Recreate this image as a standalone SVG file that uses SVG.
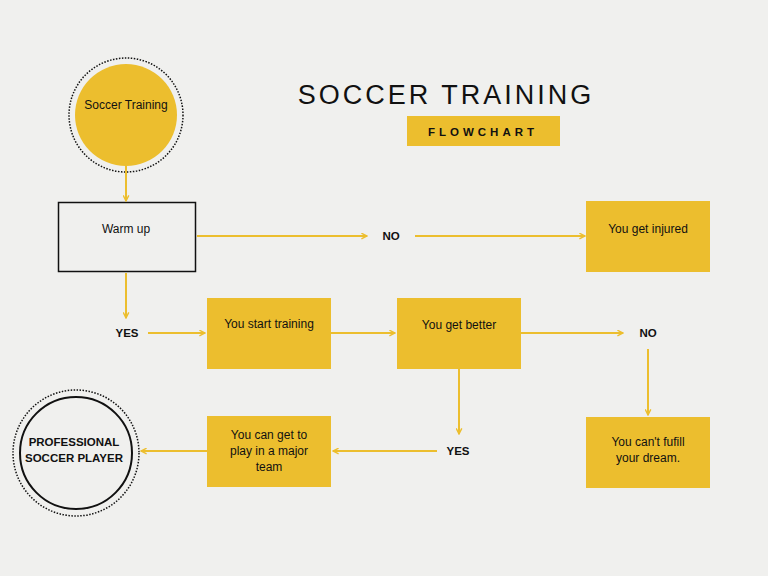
<svg xmlns="http://www.w3.org/2000/svg" width="768" height="576" viewBox="0 0 768 576">
<style>
.t{font-family:"Liberation Sans",Arial,sans-serif;font-size:12px;fill:#111;text-anchor:middle}
.b{font-family:"Liberation Sans",Arial,sans-serif;font-size:11.5px;font-weight:bold;fill:#111;text-anchor:middle}
.box{fill:#ecbe2e}
.c line,.c path{stroke:#ecbe2e;stroke-width:2;fill:none}
</style>
<defs><marker id="a" viewBox="0 0 10 10" refX="9" refY="5" markerWidth="7" markerHeight="7" orient="auto" markerUnits="userSpaceOnUse"><path d="M1,1 L9,5 L1,9" fill="none" stroke="#ecbe2e" stroke-width="2"/></marker></defs>
<rect width="768" height="576" fill="#f0f0ee"/>
<text x="446" y="104" font-family="Liberation Sans,Arial,sans-serif" font-size="27" letter-spacing="3" text-anchor="middle" fill="#111">SOCCER TRAINING</text>
<rect x="407" y="116" width="153" height="30" class="box"/>
<text x="483" y="136" class="b" font-size="13" letter-spacing="4">FLOWCHART</text>
<g id="start"><circle cx="126" cy="115" r="57" fill="none" stroke="#111" stroke-width="1.5" stroke-dasharray="1.5 1.5"/><circle cx="126" cy="115" r="51" class="box"/><text x="126" y="109" class="t">Soccer Training</text></g>
<g id="warm"><rect x="58.5" y="202.5" width="137" height="69" fill="none" stroke="#111" stroke-width="1.5"/><text x="126" y="233" class="t">Warm up</text></g>
<g id="injured"><rect x="586" y="201" width="124" height="71" class="box"/><text x="648" y="233" class="t">You get injured</text></g>
<g id="start_tr"><rect x="207" y="298" width="124" height="71" class="box"/><text x="269" y="328" class="t">You start training</text></g>
<g id="better"><rect x="397" y="298" width="124" height="71" class="box"/><text x="459" y="329" class="t">You get better</text></g>
<g id="dream"><rect x="586" y="417" width="124" height="71" class="box"/><text x="648" y="446" class="t">You can't fufill</text><text x="648" y="462" class="t">your dream.</text></g>
<g id="team"><rect x="207" y="416" width="124" height="71" class="box"/><text x="269" y="439" class="t">You can get to</text><text x="269" y="455" class="t">play in a major</text><text x="269" y="471" class="t">team</text></g>
<g id="pro"><circle cx="76" cy="453" r="63" fill="none" stroke="#111" stroke-width="1.5" stroke-dasharray="1.5 1.5"/><circle cx="76" cy="453" r="56" fill="none" stroke="#111" stroke-width="2"/><text x="74" y="446" class="b">PROFESSIONAL</text><text x="74" y="462" class="b">SOCCER PLAYER</text></g>
<g id="labels"><text x="391" y="240" class="b">NO</text><text x="127" y="337" class="b">YES</text><text x="648" y="337" class="b">NO</text><text x="458" y="455" class="b">YES</text></g>
<g class="c">
<line x1="126" y1="166" x2="126" y2="201" marker-end="url(#a)"/>
<line x1="197" y1="236" x2="367" y2="236" marker-end="url(#a)"/>
<line x1="415" y1="236" x2="585" y2="236" marker-end="url(#a)"/>
<line x1="126" y1="273" x2="126" y2="318" marker-end="url(#a)"/>
<line x1="148" y1="333" x2="205" y2="333" marker-end="url(#a)"/>
<line x1="331" y1="333" x2="395" y2="333" marker-end="url(#a)"/>
<line x1="521" y1="333" x2="623" y2="333" marker-end="url(#a)"/>
<line x1="648" y1="349" x2="648" y2="415" marker-end="url(#a)"/>
<line x1="459" y1="369" x2="459" y2="434" marker-end="url(#a)"/>
<line x1="437" y1="451" x2="333" y2="451" marker-end="url(#a)"/>
<line x1="207" y1="451" x2="141" y2="451" marker-end="url(#a)"/>
</g>
</svg>
